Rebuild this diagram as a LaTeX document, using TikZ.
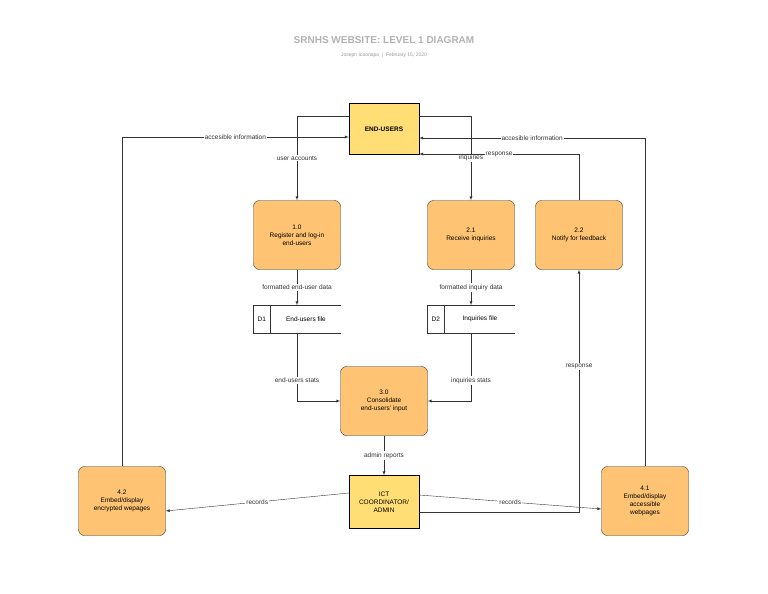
\documentclass[tikz,border=0pt]{standalone}
\usepackage{fontspec}
\setmainfont{Liberation Sans}
\usetikzlibrary{positioning}
\definecolor{procorange}{HTML}{FFC374}
\definecolor{entyellow}{HTML}{FFDE75}
\definecolor{flowgray}{HTML}{333333}

\begin{document}
\begin{tikzpicture}[x=1pt,y=-1pt,font=\fontsize{6.5}{8}\selectfont,
process/.style ={draw=flowgray, fill=procorange, rounded corners=6pt,
minimum width=87pt, minimum height=69pt, align=center, inner sep=1pt},
entity/.style ={draw=black, fill=entyellow, minimum width=70pt,
align=center},
store/.style ={minimum width=87pt, minimum height=27pt, inner sep=0pt},
flow/.style ={-latex, flowgray},
lbl/.style ={fill=white, inner sep=1pt}]
\useasboundingbox (0,0) rectangle (768,594);
\node (title) at (384,40) {\fontsize{10}{12}\selectfont\bfseries\color{black!30}SRNHS WEBSITE: LEVEL 1 DIAGRAM};
\node (sub) at (384,55) {\fontsize{5}{6}\selectfont\color{black!40}Joseph Icaonapo \ | \ February 15, 2020};
\node[entity, minimum height=51pt] (EU) at (384,129) {\textbf{END-USERS}};
\node[process] (P10) at (297,235) {1.0\\Register and log-in\\end-users};
\node[process] (P21) at (471,235) {2.1\\Receive inquiries};
\node[process] (P22) at (579,235) {2.2\\Notify for feedback};
\node[process] (P30) at (384,401) {3.0\\Consolidate\\end-users' input};
\node[entity, minimum height=53pt] (ICT) at (384,502) {ICT\\COORDINATOR/\\ADMIN};
\node[process] (P42) at (122,501) {4.2\\Embed/display\\encrypted wepages};
\node[process] (P41) at (645,501) {4.1\\Embed/display\\accessible\\webpages};
% data stores
\node[store] (D1) at (297,319) {};
\node[store] (D2) at (471,319) {};
\foreach \s/\n/\t in {D1/D1/End-users file, D2/D2/Inquiries file} {
  \draw[flowgray] (\s.north east) -- (\s.north west) -- (\s.south west) -- (\s.south east);
  \draw[flowgray] ([xshift=17pt]\s.north west) -- ([xshift=17pt]\s.south west);
  \node at ([xshift=8.5pt]\s.west) {\n};
  \node at ([xshift=9pt]\s.center) {\t};
}
% flows
\draw[flow] (P42.north) |- node[lbl, pos=0.75] {accesible information} ([yshift=-8pt]EU.west);
\draw[flow] ([yshift=13pt]EU.west) -| node[lbl, pos=0.75] {user accounts} (P10.north);
\draw[flow] ([yshift=13pt]EU.east) -| node[lbl, pos=0.75] {inquiries} (P21.north);
\draw[flow] (P22.north) |- node[lbl, pos=0.75] {response} ([yshift=-25pt]EU.east);
\draw[flow] (P41.north) |- node[lbl, pos=0.75] {accesible information} ([yshift=-9pt]EU.east);
\draw[flow] (P10) -- node[lbl] {formatted end-user data} (D1);
\draw[flow] (P21) -- node[lbl] {formatted inquiry data} (D2);
\draw[flow] (D1.south) |- node[lbl, pos=0.35] {end-users stats} (P30.west);
\draw[flow] (D2.south) |- node[lbl, pos=0.35] {inquiries stats} (P30.east);
\draw[flow] (P30) -- node[lbl] {admin reports} (ICT);
\draw[flow] ([yshift=9pt]ICT.west) -- node[lbl] {records} (P42.east |- 0,511);
\draw[flow] ([yshift=7pt]ICT.east) -- node[lbl] {records} (P41.west |- 0,509);
\draw[flow] ([yshift=-10pt]ICT.east) -| node[lbl, pos=0.8] {response} (P22.south);
\end{tikzpicture}
\end{document}
